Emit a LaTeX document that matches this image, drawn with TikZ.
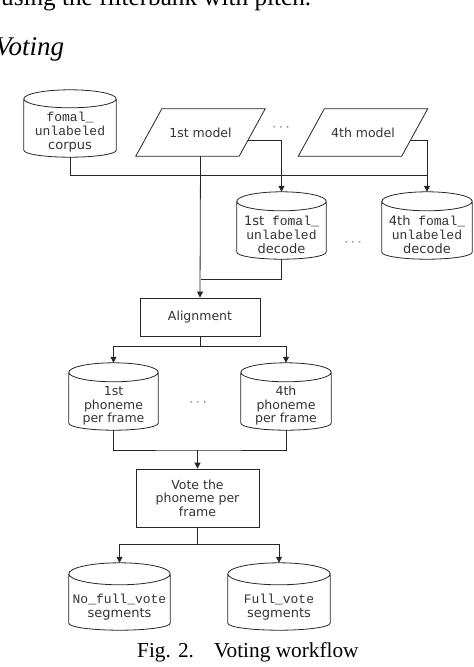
\documentclass[tikz,border=0pt]{standalone}
\usepackage{fontspec}
\setmainfont{Liberation Serif}
\setsansfont{DejaVu Sans}
\setmonofont{Liberation Mono}
\usetikzlibrary{arrows.meta,calc}
\begin{document}
\begin{tikzpicture}[x=1pt,y=1pt,
  line/.style={draw=black!85, line width=0.8pt},
  arr/.style={line, -{Triangle[length=6pt,width=6pt]}},
  sf/.style={font=\sffamily\fontsize{12.5}{13.5}\selectfont, text=black!80},
  box/.style={line, rectangle, inner sep=0pt, align=center, sf},
  model/.style={rectangle, inner sep=0pt, align=center, sf, minimum width=103pt, minimum height=47pt},
  cyl/.style={rectangle, inner sep=0pt, align=center, text=black!80,
    font=\ttfamily\fontsize{13}{14}\selectfont},
  dots/.style={font=\sffamily\fontsize{12}{12}\selectfont, text=black!55, inner sep=0pt},
  body/.style={inner sep=0pt, anchor=base west}
]
\useasboundingbox (0,0) rectangle (474,-667);
\clip (0,0) rectangle (474,-667);

% running text
\node[body, font=\fontsize{25.2}{28}\selectfont] (txt) at (1,-5) {using the filterbank with pitch.};
\node[body, font=\itshape\fontsize{27}{30}\selectfont] (head) at (-5,-55) {Voting};

% models
\node[model] (m1) at (200.5,-132.5) {1st model};
\node[model] (m4) at (363,-132.5) {4th model};
\foreach \mm in {m1,m4}{
  \draw[line] ($(\mm.south west)+(-13,0)$) -- ($(\mm.south east)+(-13,0)$)
    -- ($(\mm.north east)+(13,0)$) -- ($(\mm.north west)+(13,0)$) -- cycle;
}
\node[dots] (d1) at (281,-129) {·\hspace{3pt}·\hspace{3pt}·};

% cylinders (node = body below the top cap)
\node[cyl, minimum width=92pt, minimum height=49pt] (corpus) at (70,-132.5)
  {fomal\_\\unlabeled\\{\sffamily corpus}};
\node[cyl, minimum width=89pt, minimum height=48pt] (dec1) at (281.5,-235)
  {{\sffamily 1st} fomal\_\\unlabeled\\{\sffamily decode}};
\node[cyl, minimum width=90pt, minimum height=48pt] (dec4) at (427,-235)
  {{\sffamily 4th} fomal\_\\unlabeled\\{\sffamily decode}};
\node[dots] (d2) at (353,-244) {·\hspace{3pt}·\hspace{3pt}·};

\node[box, minimum width=120pt, minimum height=38pt] (align) at (200,-317) {Alignment};

\node[cyl, sf, minimum width=89pt, minimum height=48pt] (ph1) at (113.5,-406)
  {1st\\phoneme\\per frame};
\node[cyl, sf, minimum width=90pt, minimum height=48pt] (ph4) at (286,-406)
  {4th\\phoneme\\per frame};
\node[dots] (d3) at (198,-404) {·\hspace{3pt}·\hspace{3pt}·};

\node[box, minimum width=123pt, minimum height=58pt] (vote) at (197.5,-498)
  {Vote the\\phoneme per\\frame};

\node[cyl, minimum width=101pt, minimum height=45pt] (out1) at (119.5,-607.5)
  {No\_full\_vote\\{\sffamily segments}};
\node[cyl, minimum width=102pt, minimum height=45pt] (out2) at (279,-607.5)
  {Full\_vote\\{\sffamily segments}};

\foreach \cn/\cr in {corpus/9,dec1/9.5,dec4/9.5,ph1/9.5,ph4/9.5,out1/11,out2/11}{
  \draw[line] let \p1=(\cn.north west), \p2=(\cn.south east), \n1={0.5*(\x2-\x1)} in
    (\x1,\y1+\cr pt) -- (\x1,\y2+7pt) arc[start angle=180,end angle=360,x radius=\n1,y radius=7pt]
    -- (\x2,\y1+\cr pt)
    ({0.5*\x1+0.5*\x2},\y1+\cr pt) ellipse[x radius=\n1, y radius=\cr pt];
  \coordinate (\cn top) at ($(\cn.north)+(0,2*\cr)$);
}

% caption
\node[body, font=\fontsize{21.3}{24}\selectfont] (cap) at (137,-657) {Fig. 2.\hspace{20pt}Voting workflow};

% connectors
\coordinate (j4) at (dec4top |- 0,-175);
\draw[line] (corpus.south) |- (j4);
\draw[arr] ($(m1.east)+(-4,-7.5)$) -| (dec1top);
\draw[arr] ($(m4.east)+(-4,-7.5)$) -| (dec4top);
\draw[arr] (m1.south) -- (align.north);
\coordinate (j1) at (m1.south |- 0,-279);
\draw[line] (dec1.south) |- (j1);

\draw[arr] (align.south) -- ++(0,-10) -| (ph1top);
\draw[arr] (align.south) -- ++(0,-10) -| (ph4top);

\coordinate (j2) at (vote.north |- 0,-450);
\draw[line] (ph1.south) |- (j2) -| (ph4.south);
\draw[arr] (j2) -- (vote.north);

\draw[arr] (vote.south) -- ++(0,-17) -| (out1top);
\draw[arr] (vote.south) -- ++(0,-17) -| (out2top);
\end{tikzpicture}
\end{document}
